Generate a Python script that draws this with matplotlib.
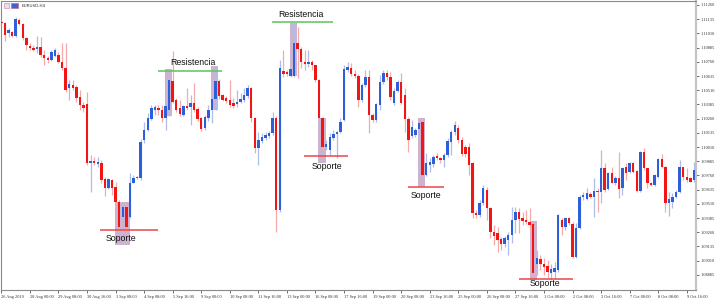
import numpy as np
import matplotlib
matplotlib.use("Agg")
import matplotlib.pyplot as plt
from matplotlib.patches import Rectangle

# EURUSD H4 candles, 26 Aug 16:00 .. 9 Oct 2019
opens = [
    1.11110, 1.11102, 1.11014, 1.11022, 1.10987, 1.11128, 1.11093, 1.10970, 1.10899, 1.10882,
    1.10873, 1.10890, 1.10820, 1.10794, 1.10776, 1.10811, 1.10820, 1.10758, 1.10706, 1.10530,
    1.10556, 1.10538, 1.10450, 1.10380, 1.10389, 1.09870, 1.09887, 1.09861, 1.09870, 1.09729,
    1.09650, 1.09720, 1.09658, 1.09526, 1.09394, 1.09482, 1.09394, 1.09694, 1.09738, 1.09738,
    1.10072, 1.10160, 1.10257, 1.10336, 1.10354, 1.10336, 1.10266, 1.10336, 1.10591, 1.10424,
    1.10354, 1.10292, 1.10371, 1.10362, 1.10398, 1.10345, 1.10266, 1.10178, 1.10266, 1.10336,
    1.10433, 1.10591, 1.10468, 1.10442, 1.10424, 1.10398, 1.10389, 1.10406, 1.10424, 1.10459,
    1.10530, 1.10266, 1.10002, 1.10063, 1.10090, 1.10107, 1.10134, 1.10266, 1.09456, 1.10679,
    1.10670, 1.10635, 1.10635, 1.10926, 1.10873, 1.10758, 1.10741, 1.10758, 1.10732, 1.10600,
    1.10266, 1.10010, 1.09984, 1.10090, 1.10125, 1.10142, 1.10248, 1.10688, 1.10706, 1.10653,
    1.10635, 1.10424, 1.10556, 1.10626, 1.10292, 1.10248, 1.10380, 1.10582, 1.10662, 1.10626,
    1.10398, 1.10503, 1.10582, 1.10468, 1.10257, 1.10107, 1.10116, 1.10169, 1.10230, 1.09764,
    1.09852, 1.09861, 1.09931, 1.09914, 1.09896, 1.09940, 1.10054, 1.10142, 1.10178, 1.10072,
    1.10010, 1.10010, 1.09870, 1.09430, 1.09412, 1.09518, 1.09632, 1.09474, 1.09262, 1.09254,
    1.09201, 1.09157, 1.09192, 1.09236, 1.09368, 1.09438, 1.09386, 1.09368, 1.09350, 1.09333,
    1.08984, 1.09025, 1.08981, 1.08963, 1.08902, 1.08910, 1.08928, 1.09368, 1.09306, 1.09386,
    1.09333, 1.09042, 1.09298, 1.09570, 1.09553, 1.09597, 1.09570, 1.09623, 1.09614, 1.09826,
    1.09641, 1.09782, 1.09694, 1.09738, 1.09650, 1.09834, 1.09790, 1.09870, 1.09799, 1.09623,
    1.09966, 1.09826, 1.09694, 1.09676, 1.09746, 1.09905, 1.09834, 1.09518, 1.09526, 1.09570,
    1.09614, 1.09834, 1.09746, 1.09738, 1.09720,
]
highs = [
    1.11119, 1.11110, 1.11058, 1.11031, 1.11154, 1.11146, 1.11102, 1.10978, 1.10926, 1.10908,
    1.10987, 1.10978, 1.10864, 1.10811, 1.10864, 1.10882, 1.10846, 1.10926, 1.10926, 1.10600,
    1.10600, 1.10556, 1.10512, 1.10406, 1.10494, 1.09940, 1.09922, 1.09922, 1.09896, 1.09746,
    1.09738, 1.09725, 1.09702, 1.09544, 1.09518, 1.09500, 1.09782, 1.09764, 1.09755, 1.10081,
    1.10230, 1.10310, 1.10380, 1.10380, 1.10380, 1.10380, 1.10380, 1.10688, 1.10855, 1.10442,
    1.10424, 1.10380, 1.10530, 1.10468, 1.10574, 1.10362, 1.10274, 1.10292, 1.10380, 1.10459,
    1.10714, 1.10609, 1.10477, 1.10459, 1.10600, 1.10442, 1.10512, 1.10486, 1.10530, 1.10556,
    1.10538, 1.10274, 1.10142, 1.10134, 1.10142, 1.10151, 1.10318, 1.10283, 1.10776, 1.10864,
    1.10688, 1.10714, 1.11102, 1.11066, 1.10890, 1.10864, 1.10864, 1.10776, 1.10735, 1.10605,
    1.10274, 1.10072, 1.10134, 1.10160, 1.10151, 1.10266, 1.10732, 1.10758, 1.10750, 1.10688,
    1.10653, 1.10574, 1.10688, 1.10688, 1.10310, 1.10398, 1.10644, 1.10688, 1.10688, 1.10670,
    1.10530, 1.10600, 1.10662, 1.10530, 1.10274, 1.10248, 1.10178, 1.10248, 1.10248, 1.09958,
    1.09914, 1.09940, 1.09958, 1.09922, 1.09958, 1.10090, 1.10160, 1.10239, 1.10204, 1.10098,
    1.10028, 1.10046, 1.09875, 1.09456, 1.09544, 1.09676, 1.09658, 1.09482, 1.09324, 1.09306,
    1.09218, 1.09227, 1.09262, 1.09482, 1.09482, 1.09474, 1.09438, 1.09456, 1.09474, 1.09350,
    1.09104, 1.09060, 1.09034, 1.09016, 1.08984, 1.08998, 1.09421, 1.09386, 1.09394, 1.09394,
    1.09350, 1.09342, 1.09588, 1.09614, 1.09650, 1.09614, 1.09738, 1.09650, 1.09984, 1.09870,
    1.09790, 1.09834, 1.09755, 1.09966, 1.09834, 1.09870, 1.09878, 1.09878, 1.09808, 1.09975,
    1.10002, 1.09830, 1.09702, 1.09773, 1.09914, 1.09949, 1.09843, 1.09614, 1.09606, 1.09632,
    1.09896, 1.09838, 1.09826, 1.09746, 1.09878,
]
lows = [
    1.11093, 1.10943, 1.10978, 1.10978, 1.10978, 1.11084, 1.10952, 1.10864, 1.10864, 1.10855,
    1.10838, 1.10802, 1.10732, 1.10750, 1.10767, 1.10802, 1.10750, 1.10688, 1.10494, 1.10424,
    1.10512, 1.10406, 1.10336, 1.10318, 1.09852, 1.09614, 1.09852, 1.09834, 1.09694, 1.09579,
    1.09645, 1.09588, 1.09500, 1.09289, 1.09324, 1.09254, 1.09390, 1.09690, 1.09729, 1.09720,
    1.10046, 1.10151, 1.10248, 1.10292, 1.10292, 1.10230, 1.10160, 1.10283, 1.10398, 1.10318,
    1.10283, 1.10283, 1.10336, 1.10204, 1.10318, 1.10239, 1.10151, 1.10160, 1.10239, 1.10222,
    1.10336, 1.10433, 1.10415, 1.10398, 1.10362, 1.10354, 1.10362, 1.10398, 1.10406, 1.10442,
    1.10230, 1.09958, 1.09852, 1.10046, 1.10072, 1.10090, 1.10116, 1.09262, 1.09438, 1.10626,
    1.10635, 1.10626, 1.10626, 1.10618, 1.10706, 1.10688, 1.10714, 1.10688, 1.10582, 1.10248,
    1.09966, 1.09984, 1.09940, 1.10072, 1.09914, 1.10134, 1.10239, 1.10670, 1.10635, 1.10618,
    1.10362, 1.10406, 1.10538, 1.10134, 1.10230, 1.10230, 1.10336, 1.10565, 1.10600, 1.10424,
    1.10380, 1.10494, 1.10389, 1.10142, 1.09966, 1.10090, 1.10098, 1.10151, 1.09738, 1.09755,
    1.09790, 1.09834, 1.09896, 1.09870, 1.09834, 1.09922, 1.09940, 1.10116, 1.10046, 1.09931,
    1.09922, 1.09764, 1.09386, 1.09386, 1.09394, 1.09500, 1.09368, 1.09210, 1.09144, 1.09086,
    1.09104, 1.09130, 1.09060, 1.09166, 1.09254, 1.09254, 1.09324, 1.09333, 1.09280, 1.08858,
    1.08884, 1.08928, 1.08884, 1.08858, 1.08840, 1.08858, 1.08910, 1.09236, 1.09280, 1.09324,
    1.09034, 1.09034, 1.09289, 1.09544, 1.09544, 1.09562, 1.09394, 1.09438, 1.09518, 1.09614,
    1.09632, 1.09690, 1.09676, 1.09562, 1.09588, 1.09720, 1.09782, 1.09782, 1.09614, 1.09614,
    1.09808, 1.09650, 1.09667, 1.09667, 1.09738, 1.09826, 1.09438, 1.09403, 1.09474, 1.09562,
    1.09606, 1.09720, 1.09702, 1.09702, 1.09702,
]
closes = [
    1.11102, 1.10996, 1.11040, 1.10987, 1.11137, 1.11093, 1.10970, 1.10908, 1.10882, 1.10864,
    1.10890, 1.10820, 1.10794, 1.10776, 1.10846, 1.10864, 1.10758, 1.10706, 1.10512, 1.10565,
    1.10530, 1.10442, 1.10380, 1.10354, 1.09870, 1.09887, 1.09870, 1.09878, 1.09720, 1.09650,
    1.09729, 1.09650, 1.09526, 1.09306, 1.09482, 1.09306, 1.09694, 1.09738, 1.09746, 1.10054,
    1.10160, 1.10266, 1.10354, 1.10362, 1.10336, 1.10266, 1.10371, 1.10600, 1.10406, 1.10336,
    1.10301, 1.10371, 1.10354, 1.10398, 1.10336, 1.10257, 1.10169, 1.10274, 1.10336, 1.10433,
    1.10591, 1.10459, 1.10424, 1.10415, 1.10380, 1.10371, 1.10406, 1.10433, 1.10468, 1.10530,
    1.10266, 1.10002, 1.10072, 1.10098, 1.10116, 1.10134, 1.10266, 1.09456, 1.10706, 1.10653,
    1.10653, 1.10697, 1.10926, 1.10873, 1.10758, 1.10741, 1.10758, 1.10732, 1.10600, 1.10266,
    1.10010, 1.10037, 1.10098, 1.10125, 1.10142, 1.10230, 1.10697, 1.10714, 1.10653, 1.10635,
    1.10424, 1.10556, 1.10626, 1.10292, 1.10248, 1.10389, 1.10582, 1.10662, 1.10626, 1.10450,
    1.10503, 1.10582, 1.10398, 1.10257, 1.10072, 1.10186, 1.10160, 1.10222, 1.09764, 1.09870,
    1.09878, 1.09922, 1.09914, 1.09896, 1.09940, 1.10063, 1.10142, 1.10204, 1.10072, 1.09949,
    1.09949, 1.09852, 1.09430, 1.09412, 1.09518, 1.09650, 1.09474, 1.09262, 1.09227, 1.09192,
    1.09157, 1.09210, 1.09236, 1.09368, 1.09438, 1.09377, 1.09359, 1.09350, 1.09324, 1.08902,
    1.09034, 1.08981, 1.08954, 1.08910, 1.08937, 1.08946, 1.09412, 1.09306, 1.09386, 1.09342,
    1.09042, 1.09298, 1.09570, 1.09588, 1.09606, 1.09570, 1.09623, 1.09614, 1.09826, 1.09632,
    1.09782, 1.09694, 1.09738, 1.09641, 1.09830, 1.09782, 1.09870, 1.09790, 1.09623, 1.09966,
    1.09826, 1.09694, 1.09676, 1.09764, 1.09905, 1.09834, 1.09518, 1.09553, 1.09570, 1.09614,
    1.09834, 1.09746, 1.09720, 1.09706, 1.09808,
]

date_labels = [
    "26 Aug 2019", "28 Aug 00:00", "29 Aug 08:00", "30 Aug 16:00", "3 Sep 00:00",
    "4 Sep 08:00", "5 Sep 16:00", "9 Sep 00:00", "10 Sep 08:00", "11 Sep 16:00",
    "13 Sep 00:00", "16 Sep 08:00", "17 Sep 16:00", "19 Sep 00:00", "20 Sep 08:00",
    "23 Sep 16:00", "25 Sep 00:00", "26 Sep 08:00", "27 Sep 16:00", "1 Oct 00:00",
    "2 Oct 08:00", "3 Oct 16:00", "7 Oct 00:00", "8 Oct 08:00", "9 Oct 16:00",
]
price_ticks = [
    1.11260, 1.11135, 1.11010, 1.10885, 1.10760, 1.10635, 1.10510, 1.10385, 1.10260, 1.10135,
    1.10010, 1.09885, 1.09760, 1.09635, 1.09510, 1.09385, 1.09260, 1.09135, 1.09010, 1.08885,
]

# support / resistance lines: label, price, from bar, to bar, text y
lvl_name = ["Soporte", "Resistencia", "Resistencia", "Soporte", "Soporte", "Soporte"]
lvl_price = [1.09280, 1.10679, 1.11106, 1.09931, 1.09658, 1.08849]
lvl_from = [27.7, 44.0, 75.8, 84.9, 114.0, 145.1]
lvl_to = [44.0, 61.9, 92.9, 97.2, 124.0, 160.2]
lvl_text_x = [33.6, 53.8, 84.0, 91.3, 119.0, 152.4]
lvl_text_y = [1.09201, 1.10750, 1.11172, 1.09843, 1.09588, 1.08805]

# highlighted bars
box_from = [31.9, 45.9, 58.8, 80.8, 88.8, 116.8, 148.2]
box_to = [35.9, 47.9, 60.8, 82.8, 91.0, 118.8, 150.1]
box_top = [1.09526, 1.10697, 1.10723, 1.11102, 1.10266, 1.10266, 1.09359]
box_bot = [1.09148, 1.10283, 1.10336, 1.10635, 1.09870, 1.09658, 1.08840]

o = np.array(opens)
h = np.array(highs)
l = np.array(lows)
c = np.array(closes)
x = np.arange(len(o))
up = c >= o

fig = plt.figure(figsize=(7.2, 3.0), dpi=100)
ax = fig.add_axes([0.0014, 0.0333, 0.9653, 0.9633])

for i in range(len(box_from)):
    ax.add_patch(Rectangle((box_from[i], box_bot[i]), box_to[i] - box_from[i],
                           box_top[i] - box_bot[i], facecolor="#cdb3d0",
                           edgecolor="none", zorder=1))

ax.vlines(x[up], l[up], h[up], color="#aebde9", lw=0.9, zorder=2)
ax.vlines(x[~up], l[~up], h[~up], color="#f6a9a9", lw=0.9, zorder=2)
body_bot = np.minimum(o, c)
body_h = np.maximum(np.abs(c - o), 0.00009)
ax.bar(x[up], body_h[up], bottom=body_bot[up], width=0.68, color="#2d5fd9", zorder=3)
ax.bar(x[~up], body_h[~up], bottom=body_bot[~up], width=0.68, color="#f21515", zorder=3)

for i in range(len(lvl_name)):
    col = "#5cc35c" if lvl_name[i] == "Resistencia" else "#e8474c"
    ax.hlines(lvl_price[i], lvl_from[i], lvl_to[i], color=col, lw=1.1, zorder=4)
    ax.text(lvl_text_x[i], lvl_text_y[i], lvl_name[i], ha="center", va="center",
            fontsize=6.3, family="Liberation Sans", color="#111111", zorder=5)

ax.set_xlim(-0.1, 194.6)
ax.set_ylim(1.08752, 1.11295)

ax.set_yticks(price_ticks)
ax.set_yticklabels(["%.5f" % p for p in price_ticks])
ax.yaxis.tick_right()
ax.tick_params(axis="y", direction="out", length=2, width=0.5, pad=1.5,
               labelsize=3.2, colors="#333333")
ax.set_xticks(np.arange(0, len(o), 8))
ax.set_xticklabels(date_labels)
ax.tick_params(axis="x", direction="out", length=2.5, width=0.5, pad=1,
               labelsize=3.2, colors="#333333")
for lab in ax.get_xticklabels() + ax.get_yticklabels():
    lab.set_family("Liberation Serif")
for lab in ax.get_xticklabels():
    lab.set_ha("left")

for s in ["left", "top", "bottom"]:
    ax.spines[s].set_color("#8a8a8a")
    ax.spines[s].set_linewidth(0.8)
ax.spines["right"].set_color("#c4c4c4")
ax.spines["right"].set_linewidth(1.6)

# chart title with the small MT4 icons
ax.add_patch(Rectangle((0.004, 0.975), 0.008, 0.018, transform=ax.transAxes,
                       facecolor="#e9dff0", edgecolor="#c77aa0", lw=0.4, zorder=6))
ax.add_patch(Rectangle((0.015, 0.975), 0.009, 0.018, transform=ax.transAxes,
                       facecolor="#3f63d6", edgecolor="#d85a6a", lw=0.4, zorder=6))
ax.text(0.029, 0.984, "EURUSD,H4", transform=ax.transAxes, fontsize=3,
        va="center", ha="left", color="#333333", family="DejaVu Sans")

fig.savefig("out.png", dpi=100)
